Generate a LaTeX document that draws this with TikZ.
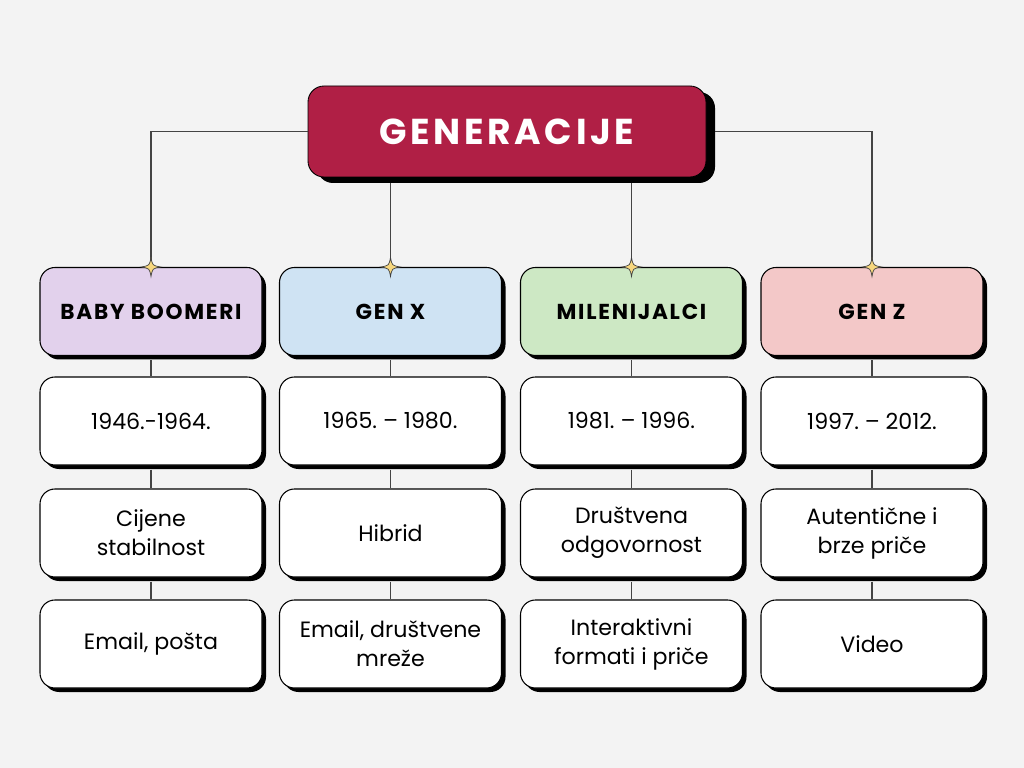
\documentclass[tikz,border=0pt]{standalone}
\usepackage{fontspec}
\setmainfont{Poppins}
\newfontfamily\titlefont[LetterSpace=10]{Poppins Bold}
\newfontfamily\hdrfont[LetterSpace=8]{Poppins Bold}
\usetikzlibrary{shadows,positioning}
\definecolor{bgc}{HTML}{F3F3F3}
\definecolor{titlec}{HTML}{B01F45}
\definecolor{lav}{HTML}{E2D1EC}
\definecolor{lblue}{HTML}{CFE3F3}
\definecolor{lgreen}{HTML}{CDE8C4}
\definecolor{lpink}{HTML}{F3C8C8}
\definecolor{starY}{HTML}{F7D77E}
\definecolor{linec}{HTML}{444444}
\tikzset{
  basebox/.style={rounded corners=0.3cm, draw=black, line width=0.6pt, align=center,
    minimum width=4.44cm, minimum height=1.76cm, inner sep=2pt,
    drop shadow={shadow xshift=0.08cm, shadow yshift=-0.08cm, fill=black, opacity=1}},
  titlebox/.style={rounded corners=0.32cm, fill=titlec, draw=black, line width=0.5pt,
    minimum width=7.96cm, minimum height=1.82cm, text=white,
    font=\titlefont\fontsize{20.5}{24}\selectfont,
    drop shadow={shadow xshift=0.18cm, shadow yshift=-0.12cm, fill=black, opacity=1}},
  hdrbox/.style={basebox, font=\hdrfont\fontsize{12.3}{14}\selectfont},
  infobox/.style={basebox, fill=white, font=\fontsize{12.6}{16.5}\selectfont},
  conn/.style={draw=linec, line width=0.6pt},
  sparkle/.pic={\draw[fill=starY, draw=black!75, line width=0.4pt]
    (0,0.19) .. controls (0.03,0.03) .. (0.19,0) .. controls (0.03,-0.03) .. (0,-0.19)
    .. controls (-0.03,-0.03) .. (-0.19,0) .. controls (-0.03,0.03) .. cycle;}
}
\begin{document}
\frenchspacing
\begin{tikzpicture}
\fill[bgc] (0,0) rectangle (20.48,-15.36);
\useasboundingbox (0,0) rectangle (20.48,-15.36);

\node[titlebox] (t) at (10.14,-2.63) {GENERACIJE};

\node[hdrbox, fill=lav]    (h1) at (3.02,-6.23)  {BABY BOOMERI};
\node[hdrbox, fill=lblue]  (h2) at (7.81,-6.23)  {GEN X};
\node[hdrbox, fill=lgreen] (h3) at (12.63,-6.23) {MILENIJALCI};
\node[hdrbox, fill=lpink]  (h4) at (17.44,-6.23) {GEN Z};

\node[infobox] (a1) at (3.02,-8.42)  {1946.-1964.};
\node[infobox] (a2) at (7.81,-8.42)  {1965. – 1980.};
\node[infobox] (a3) at (12.63,-8.42) {1981. – 1996.};
\node[infobox] (a4) at (17.44,-8.42) {1997. – 2012.};
\node[infobox] (b1) at (3.02,-10.66)  {Cijene\\stabilnost};
\node[infobox] (b2) at (7.81,-10.66)  {Hibrid};
\node[infobox] (b3) at (12.63,-10.66) {Društvena\\odgovornost};
\node[infobox] (b4) at (17.44,-10.66) {Autentične i\\brze priče};
\node[infobox] (c1) at (3.02,-12.88)  {Email, pošta};
\node[infobox] (c2) at (7.81,-12.88)  {Email, društvene\\mreže};
\node[infobox] (c3) at (12.63,-12.88) {Interaktivni\\formati i priče};
\node[infobox] (c4) at (17.44,-12.88) {Video};

\draw[conn] (t.west) -| (h1.north);
\draw[conn] ([xshift=0.18cm]t.east) -| (h4.north);
\draw[conn] ([yshift=-0.12cm]t.south -| h2.north) -- (h2.north);
\draw[conn] ([yshift=-0.12cm]t.south -| h3.north) -- (h3.north);
\foreach \i in {1,2,3,4}{
  \draw[conn] ([yshift=-0.08cm]h\i.south) -- (a\i.north);
  \draw[conn] ([yshift=-0.08cm]a\i.south) -- (b\i.north);
  \draw[conn] ([yshift=-0.08cm]b\i.south) -- (c\i.north);
  \pic at (h\i.north) {sparkle};
}
\end{tikzpicture}
\end{document}
